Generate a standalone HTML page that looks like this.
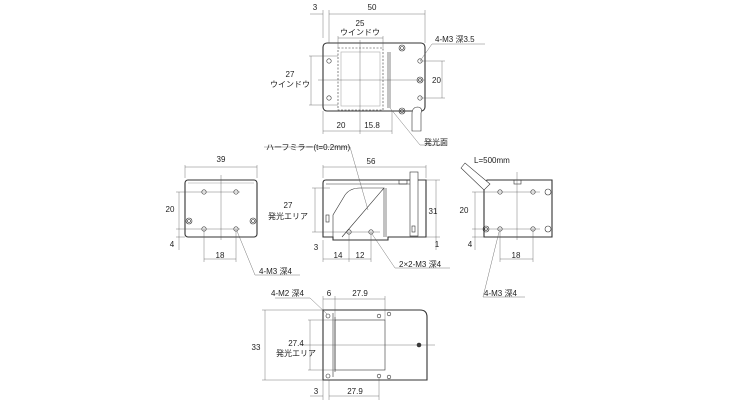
<!DOCTYPE html>
<html><head><meta charset="utf-8"><style>
html,body{margin:0;padding:0;background:#fff;}
svg{display:block}
text{font-family:"Liberation Sans","Noto Sans CJK JP",sans-serif;font-size:8px;fill:#222}
</style></head><body>
<svg width="730" height="409" viewBox="0 0 730 409" xmlns="http://www.w3.org/2000/svg">
<g fill="none" stroke="#333" stroke-width="0.6">
<!-- TOP VIEW -->
<rect x="323" y="43" width="102" height="68" rx="4" stroke-width="1.1"/>
<rect x="338" y="48" width="45" height="62" stroke-dasharray="2,1.5"/>
<rect x="341" y="52" width="39" height="54" stroke="#aaa"/>
<line x1="388" y1="52" x2="388" y2="108"/><line x1="390" y1="52" x2="390" y2="108"/>
<circle cx="329" cy="61" r="2.2"/><circle cx="329" cy="98" r="2.2"/>
<circle cx="420" cy="61" r="2.2"/><circle cx="420" cy="98" r="2.2"/>
<circle cx="420" cy="80" r="3"/><circle cx="420" cy="80" r="1.5"/>
<circle cx="402" cy="48" r="3"/><circle cx="402" cy="48" r="1.5"/>
<circle cx="402" cy="111" r="3"/><circle cx="402" cy="111" r="1.5"/>
<path d="M412 131 V114 Q412 107 418 107 Q423 108 421 113 V131 Z" fill="#fff"/>
<g stroke-width="0.4" stroke="#555">
<line x1="323" y1="38" x2="323" y2="10"/><line x1="329" y1="43" x2="329" y2="10"/><line x1="425" y1="43" x2="425" y2="10"/>
<line x1="329" y1="14" x2="425" y2="14"/><line x1="310" y1="14" x2="323" y2="14"/>
<line x1="338" y1="38" x2="383" y2="38"/><line x1="338" y1="36" x2="338" y2="48"/><line x1="383" y1="36" x2="383" y2="48"/>
<line x1="311" y1="56" x2="311" y2="105"/><line x1="309" y1="56" x2="338" y2="56"/><line x1="309" y1="105" x2="338" y2="105"/>
<line x1="318" y1="80" x2="425" y2="80"/><line x1="360" y1="40" x2="360" y2="134"/>
<line x1="323" y1="111" x2="323" y2="134"/><line x1="392" y1="111" x2="392" y2="134"/>
<line x1="323" y1="131" x2="392" y2="131"/>
<line x1="420" y1="61" x2="445" y2="61"/><line x1="420" y1="98" x2="445" y2="98"/><line x1="442" y1="61" x2="442" y2="98"/>
<line x1="420" y1="61" x2="432" y2="44"/><line x1="432" y1="44" x2="485" y2="44"/>
<line x1="390" y1="108" x2="420" y2="145"/><line x1="420" y1="145" x2="445" y2="145"/>
</g>
<!-- LEFT VIEW -->
<rect x="185" y="180" width="72" height="57" rx="3" stroke-width="1.1"/>
<line x1="188" y1="183" x2="254" y2="183" stroke="#999"/>
<circle cx="204" cy="192" r="2.2"/><circle cx="236" cy="192" r="2.2"/>
<circle cx="204" cy="229" r="2.2"/><circle cx="236" cy="229" r="2.2"/>
<circle cx="189" cy="221" r="3"/><circle cx="189" cy="221" r="1.5"/>
<circle cx="253" cy="221" r="3"/><circle cx="253" cy="221" r="1.5"/>
<g stroke-width="0.4" stroke="#555">
<line x1="185" y1="165" x2="185" y2="178"/><line x1="257" y1="165" x2="257" y2="178"/><line x1="185" y1="167" x2="257" y2="167"/>
<line x1="221" y1="175" x2="221" y2="240"/>
<line x1="176" y1="192" x2="240" y2="192"/><line x1="176" y1="229" x2="240" y2="229"/><line x1="179" y1="192" x2="179" y2="250"/>
<line x1="176" y1="237" x2="185" y2="237"/>
<line x1="204" y1="229" x2="204" y2="262"/><line x1="236" y1="229" x2="236" y2="262"/><line x1="204" y1="259" x2="236" y2="259"/>
<line x1="237" y1="231" x2="255" y2="275"/><line x1="255" y1="275" x2="300" y2="275"/>
</g>
<!-- SIDE VIEW -->
<path d="M323 237 V183 Q323 180 326 180 H426 V237 H388 V240 H333 V237 Z" stroke-width="1.1"/>
<line x1="326" y1="184" x2="412" y2="184"/>
<path d="M333 237 V215 L345 195 Q350 188 360 188 H384 L342 237"/>
<line x1="384" y1="188" x2="384" y2="237"/><line x1="386" y1="188" x2="386" y2="237"/>
<rect x="410" y="172" width="8" height="64" fill="#fff"/>
<rect x="399" y="180" width="8" height="4"/>
<rect x="326" y="215" width="3" height="7"/><rect x="412" y="226" width="3" height="6"/>
<circle cx="349" cy="232" r="2.2"/><circle cx="371" cy="232" r="2.2"/>
<g stroke-width="0.4" stroke="#555">
<line x1="323" y1="165" x2="323" y2="178"/><line x1="426" y1="165" x2="426" y2="178"/><line x1="323" y1="167" x2="426" y2="167"/>
<line x1="264" y1="147" x2="350" y2="147"/><line x1="350" y1="147" x2="368" y2="210"/>
<line x1="312" y1="188" x2="330" y2="188"/><line x1="312" y1="232" x2="380" y2="232"/><line x1="315" y1="188" x2="315" y2="232"/>
<line x1="418" y1="180" x2="440" y2="180"/><line x1="426" y1="237" x2="440" y2="237"/><line x1="436" y1="180" x2="436" y2="250"/>
<line x1="323" y1="240" x2="323" y2="262"/><line x1="349" y1="232" x2="349" y2="262"/><line x1="371" y1="232" x2="371" y2="262"/>
<line x1="323" y1="259" x2="371" y2="259"/>
<line x1="372" y1="234" x2="395" y2="268"/><line x1="395" y1="268" x2="450" y2="268"/>
</g>
<!-- RIGHT VIEW -->
<path d="M484 237 V186 L487 180 H552 V237 Z" stroke-width="1.1"/>
<path d="M461 168 L465 163 L490 184 L484 190 Z" fill="#fff"/>
<rect x="514" y="180" width="7" height="4"/>
<circle cx="500" cy="192" r="2.2"/><circle cx="533" cy="192" r="2.2"/>
<circle cx="500" cy="229" r="2.2"/><circle cx="533" cy="229" r="2.2"/>
<circle cx="486" cy="229" r="3"/><circle cx="486" cy="229" r="1.5"/>
<circle cx="548" cy="192" r="3"/><circle cx="548" cy="229" r="3"/>
<g stroke-width="0.4" stroke="#555">
<line x1="517" y1="172" x2="517" y2="240"/>
<line x1="472" y1="192" x2="540" y2="192"/><line x1="472" y1="229" x2="540" y2="229"/><line x1="475" y1="192" x2="475" y2="250"/>
<line x1="472" y1="237" x2="484" y2="237"/>
<line x1="500" y1="229" x2="500" y2="262"/><line x1="533" y1="229" x2="533" y2="262"/><line x1="500" y1="259" x2="533" y2="259"/>
<line x1="499" y1="232" x2="483" y2="297"/><line x1="483" y1="297" x2="525" y2="297"/>
</g>
<!-- BOTTOM VIEW -->
<path d="M323 310 H420 Q427 310 427 317 V380 H323 Z" stroke-width="1.1"/>
<line x1="333" y1="313" x2="333" y2="377"/><line x1="335" y1="317" x2="335" y2="372"/>
<rect x="335" y="320" width="50" height="50"/>
<circle cx="328" cy="316" r="2"/><circle cx="328" cy="376" r="2"/>
<circle cx="379" cy="316" r="1.8"/><circle cx="379" cy="376" r="1.8"/>
<circle cx="389" cy="314" r="1.8"/><circle cx="389" cy="377" r="1.8"/>
<circle cx="419" cy="345" r="2" fill="#333"/>
<g stroke-width="0.4" stroke="#555">
<line x1="262" y1="310" x2="323" y2="310"/><line x1="262" y1="380" x2="323" y2="380"/><line x1="265" y1="310" x2="265" y2="380"/>
<line x1="308" y1="320" x2="335" y2="320"/><line x1="308" y1="370" x2="335" y2="370"/>
<line x1="310" y1="320" x2="310" y2="370"/>
<line x1="300" y1="345" x2="435" y2="345"/>
<line x1="323" y1="296" x2="323" y2="310"/><line x1="335" y1="296" x2="335" y2="320"/><line x1="385" y1="296" x2="385" y2="320"/>
<line x1="323" y1="299" x2="385" y2="299"/>
<line x1="275" y1="298" x2="310" y2="298"/><line x1="310" y1="298" x2="327" y2="314"/>
<line x1="323" y1="380" x2="323" y2="400"/><line x1="329" y1="380" x2="329" y2="400"/><line x1="379" y1="378" x2="379" y2="400"/>
<line x1="310" y1="396" x2="323" y2="396"/><line x1="329" y1="396" x2="379" y2="396"/>
</g>
</g>
<!-- TEXT -->
<text x="315" y="10" text-anchor="middle">3</text>
<text x="372" y="10" text-anchor="middle">50</text>
<text x="360" y="26" text-anchor="middle">25</text>
<text x="360" y="35" text-anchor="middle">ウインドウ</text>
<text x="290" y="77" text-anchor="middle">27</text>
<text x="290" y="87" text-anchor="middle">ウインドウ</text>
<text x="435" y="42">4-M3 深3.5</text>
<text x="432" y="83">20</text>
<text x="341" y="128" text-anchor="middle">20</text>
<text x="372" y="128" text-anchor="middle">15.8</text>
<text x="424" y="145">発光面</text>
<text x="221" y="162" text-anchor="middle">39</text>
<text x="170" y="212" text-anchor="middle">20</text>
<text x="172" y="247" text-anchor="middle">4</text>
<text x="220" y="258" text-anchor="middle">18</text>
<text x="259" y="274">4-M3 深4</text>
<text x="266" y="150">ハーフミラー(t=0.2mm)</text>
<text x="371" y="164" text-anchor="middle">56</text>
<text x="288" y="208" text-anchor="middle">27</text>
<text x="288" y="219" text-anchor="middle">発光エリア</text>
<text x="433" y="214" text-anchor="middle">31</text>
<text x="316" y="250" text-anchor="middle">3</text>
<text x="437" y="247" text-anchor="middle">1</text>
<text x="338" y="258" text-anchor="middle">14</text>
<text x="360" y="258" text-anchor="middle">12</text>
<text x="399" y="267">2×2-M3 深4</text>
<text x="474" y="163">L=500mm</text>
<text x="464" y="213" text-anchor="middle">20</text>
<text x="470" y="247" text-anchor="middle">4</text>
<text x="516" y="258" text-anchor="middle">18</text>
<text x="484" y="296">4-M3 深4</text>
<text x="271" y="296">4-M2 深4</text>
<text x="329" y="296" text-anchor="middle">6</text>
<text x="360" y="296" text-anchor="middle">27.9</text>
<text x="256" y="350" text-anchor="middle">33</text>
<text x="296" y="346" text-anchor="middle">27.4</text>
<text x="296" y="356" text-anchor="middle">発光エリア</text>
<text x="316" y="394" text-anchor="middle">3</text>
<text x="355" y="394" text-anchor="middle">27.9</text>
</svg>
</body></html>
